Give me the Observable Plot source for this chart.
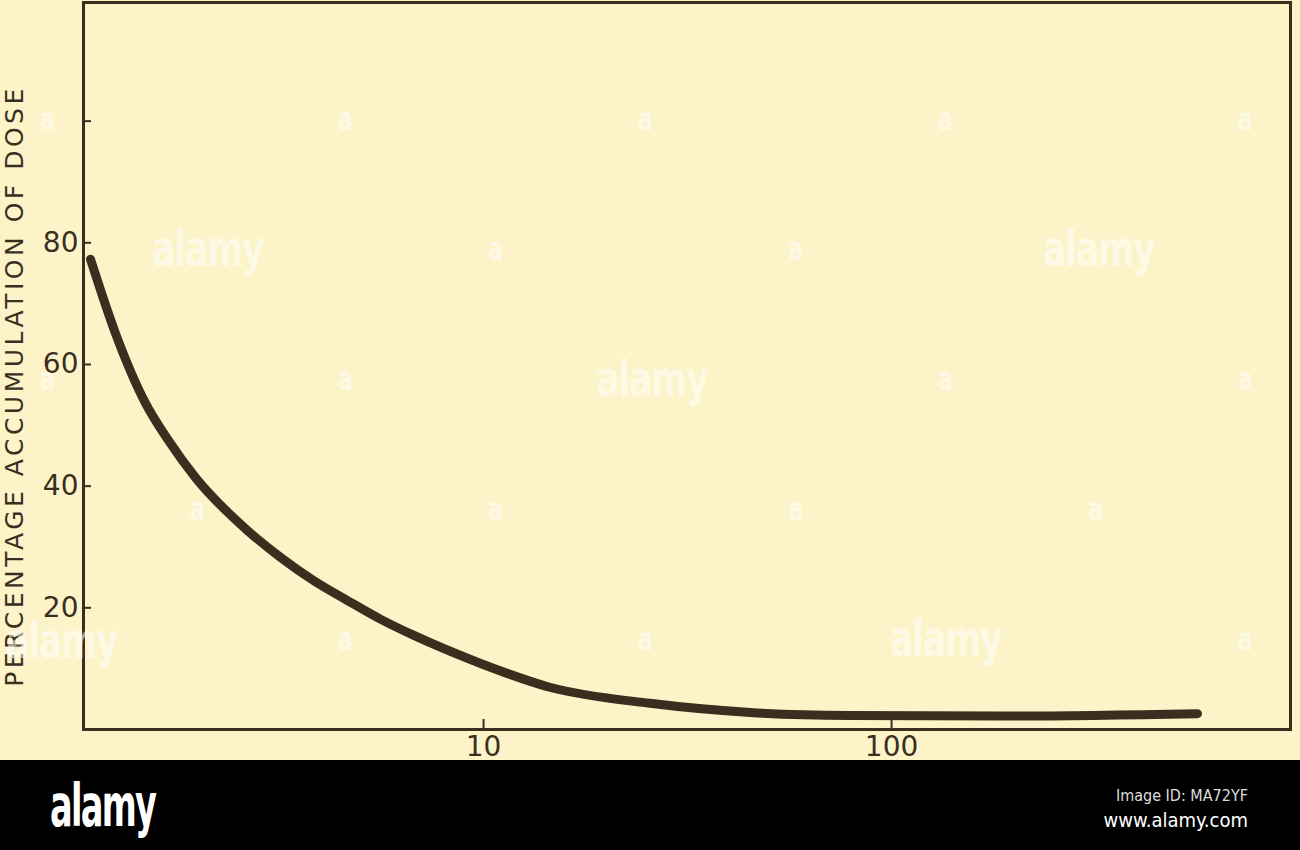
<!DOCTYPE html>
<html>
<head>
<meta charset="utf-8">
<script src="https://cdn.jsdelivr.net/npm/d3@7"></script>
<script src="https://cdn.jsdelivr.net/npm/@observablehq/plot@0.6"></script>
<style>
  html, body { margin: 0; padding: 0; background: #fcf3c9; }
  #wrap { position: relative; width: 1300px; height: 850px; overflow: hidden; }
  #chart { position: absolute; left: 0; top: 0; }
  #band { position: absolute; left: 0; top: 760px; width: 1300px; height: 90px; background: #000; }
  #logo { position: absolute; left: 50px; top: 12px; color: #fff; font-family: "DejaVu Sans", sans-serif; font-weight: bold; font-size: 58px; letter-spacing: -3px; transform: scaleX(0.58); transform-origin: left top; }
  #imgid { position: absolute; right: 52px; top: 26px; color: #ddd; font-family: "DejaVu Sans Condensed", "DejaVu Sans", sans-serif; font-size: 16px; }
  #site { position: absolute; right: 52px; top: 48px; color: #fff; font-family: "DejaVu Sans Condensed", "DejaVu Sans", sans-serif; font-size: 20px; }
  .wm { position: absolute; color: rgba(255,255,255,0.55); font-family: "DejaVu Sans", sans-serif; font-weight: bold; pointer-events: none; transform: scaleX(0.7); transform-origin: left top; }
  .big { font-size: 50px; letter-spacing: -2px; }
  .small { font-size: 32px; }
</style>
</head>
<body>
<div id="wrap">
  <div id="chart"></div>
  <div id="band">
    <div id="logo">alamy</div>
    <div id="imgid">Image ID: MA72YF</div>
    <div id="site">www.alamy.com</div>
  </div>
</div>
<script>
// Data
const dose = [1.088, 1.253, 1.485, 1.690, 1.968, 2.64, 3.18, 3.83, 4.64, 5.60, 6.73, 9.8, 14.6, 25.6, 45, 79, 185, 562];
const accumulation = [77.3, 65.1, 53.6, 47.5, 41.4, 32.7, 28.3, 24.5, 21.2, 18.1, 15.5, 10.9, 6.9, 4.3, 2.8, 2.3, 2.2, 2.6];
const xTicks = [10, 100];
const yTickLabels = [20, 40, 60, 80];
const yTickMarks = [20, 40, 60, 80, 100];
const yLabel = ["PERCENTAGE ACCUMULATION OF DOSE"];

const watermarksBig = [["alamy", 152, 220], ["alamy", 596, 350], ["alamy", 1043, 220], ["alamy", 890, 610], ["alamy", 6, 612]];
const watermarksSmall = [
  [40,100],[338,100],[638,100],[938,100],[1238,100],
  [488,230],[788,230],
  [40,360],[338,360],[938,360],[1238,360],
  [190,490],[488,490],[788,490],[1088,490],
  [338,620],[638,620],[1238,620]
];

const data = dose.map((d, i) => ({dose: d, pct: accumulation[i]}));
const ink = "#3a2f1e";
const bg = "#fcf3c9";

const plot = Plot.plot({
  width: 1300,
  height: 760,
  marginLeft: 83,
  marginRight: 10,
  marginTop: 2,
  marginBottom: 31,
  style: {background: bg, color: ink, fontFamily: "'DejaVu Sans', sans-serif", overflow: "visible"},
  x: {type: "log", domain: [1.046, 950]},
  y: {domain: [0, 119.5]},
  marks: [
    Plot.frame({stroke: ink, strokeWidth: 3}),
    Plot.tickX(xTicks, {x: d => d, stroke: ink, strokeWidth: 2, insetTop: 717}),
    Plot.tickY(yTickMarks, {y: d => d, stroke: ink, strokeWidth: 2, insetRight: 1199}),
    Plot.axisX({ticks: xTicks, tickSize: 0, tickPadding: 7, tickFormat: d => String(d), fontSize: 28, label: null}),
    Plot.axisY({ticks: yTickLabels, tickSize: 0, tickPadding: 5, tickFormat: d => String(d), fontSize: 28, label: null}),
    Plot.text(yLabel, {text: d => d, frameAnchor: "left", textAnchor: "middle", rotate: -90, dx: -69, dy: 20, fontSize: 25, fill: ink}),
    Plot.line(data, {x: "dose", y: "pct", curve: "monotone-x", stroke: ink, strokeWidth: 9, strokeLinecap: "round"})
  ]
});
document.getElementById("chart").appendChild(plot);
plot.querySelectorAll("text").forEach(t => {
  if (t.textContent === yLabel[0]) t.setAttribute("letter-spacing", "3.5");
});

const wrap = document.getElementById("wrap");
for (const [t, x, y] of watermarksBig) {
  const el = document.createElement("div");
  el.className = "wm big"; el.textContent = t;
  el.style.left = x + "px"; el.style.top = y + "px";
  wrap.appendChild(el);
}
for (const [x, y] of watermarksSmall) {
  const el = document.createElement("div");
  el.className = "wm small"; el.textContent = "a";
  el.style.left = x + "px"; el.style.top = y + "px";
  wrap.appendChild(el);
}
</script>
</body>
</html>
